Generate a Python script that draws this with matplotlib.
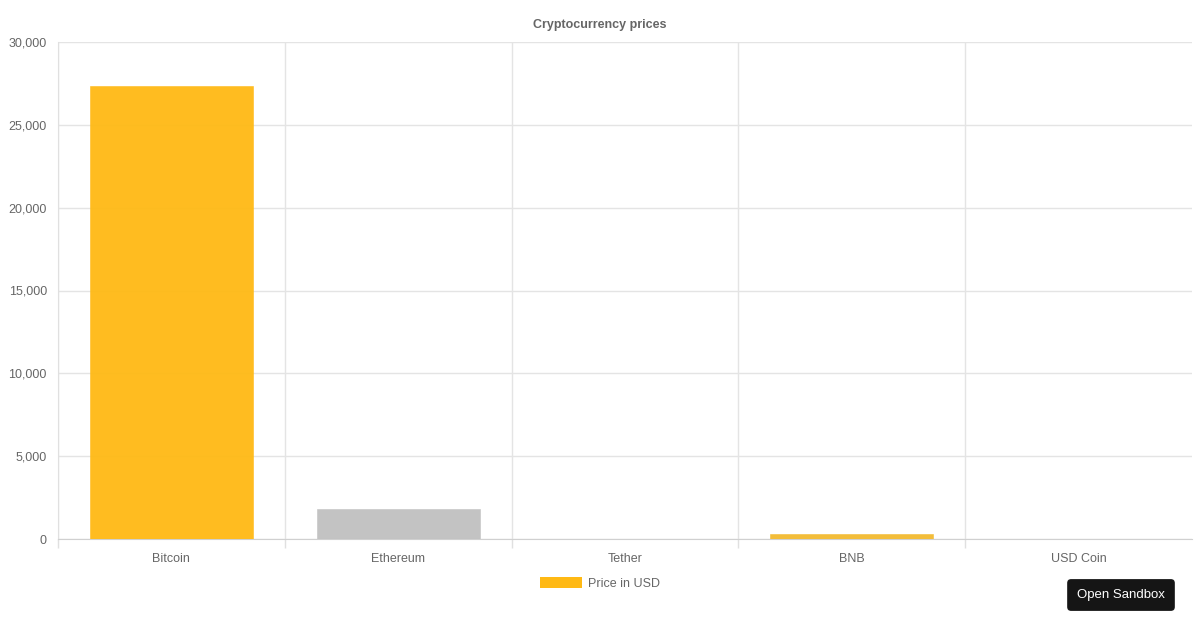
import matplotlib
matplotlib.use("Agg")
import matplotlib.pyplot as plt
from matplotlib.patches import Patch
from matplotlib.ticker import FuncFormatter, MultipleLocator, FixedLocator

categories = ["Bitcoin", "Ethereum", "Tether", "BNB", "USD Coin"]
prices = [27350, 1815, 1, 305, 1]
bar_colors = ["#FFB914", "#C0C0C0", "#50AF95", "#F3BA2F", "#2775CA"]
series_label = "Price in USD"
title = "Cryptocurrency prices"

plt.rcParams["font.family"] = ["Liberation Sans", "DejaVu Sans"]

W, H = 1200, 630
fig = plt.figure(figsize=(W / 100, H / 100), dpi=100)
ax = fig.add_axes([58 / W, 1 - 539 / H, (1192 - 58) / W, (539 - 42) / H])

x = list(range(len(categories)))
ax.bar(x, prices, width=0.72, color=bar_colors, edgecolor=bar_colors,
       linewidth=0.4, alpha=0.95, zorder=3)

ax.set_xlim(-0.5, len(categories) - 0.5)
ax.set_ylim(0, 30000)

ax.yaxis.set_major_locator(MultipleLocator(5000))
ax.yaxis.set_major_formatter(FuncFormatter(lambda v, p: f"{int(v):,}"))
ax.set_xticks(x)
ax.set_xticklabels(categories)
ax.xaxis.set_minor_locator(FixedLocator([i - 0.5 for i in range(len(categories))]))

ax.tick_params(axis="y", length=0, pad=8, labelsize=9, labelcolor="#666666")
ax.tick_params(axis="x", which="major", length=0, pad=10, labelsize=9, labelcolor="#666666")
ax.tick_params(axis="x", which="minor", length=6.5, width=1, color="#e0e0e0")

ax.grid(axis="y", which="major", color="#e4e4e4", linewidth=1, zorder=0)
ax.grid(axis="x", which="minor", color="#e4e4e4", linewidth=1, zorder=0)
ax.set_axisbelow(True)

for s in ["top", "right"]:
    ax.spines[s].set_visible(False)
ax.spines["left"].set_color("#e0e0e0")
ax.spines["bottom"].set_color("#d0d0d0")

fig.text(600 / W, 1 - 25 / H, title, ha="center", va="center",
         fontsize=9, fontweight="bold", color="#666666")

fig.legend(handles=[Patch(facecolor="#FFB914", edgecolor="none", label=series_label)],
           loc="center", bbox_to_anchor=(600 / W, 1 - 583.5 / H), frameon=False,
           fontsize=9, labelcolor="#666666", handlelength=3.3, handleheight=1.0,
           handletextpad=0.5)

fig.text(1121 / W, 1 - 595 / H, "Open Sandbox", ha="center", va="center",
         fontsize=9.5, color="white",
         bbox=dict(boxstyle="round,pad=0.75,rounding_size=0.3", facecolor="#151515",
                   edgecolor="none"))

fig.savefig("out.png", dpi=100, facecolor="white")
